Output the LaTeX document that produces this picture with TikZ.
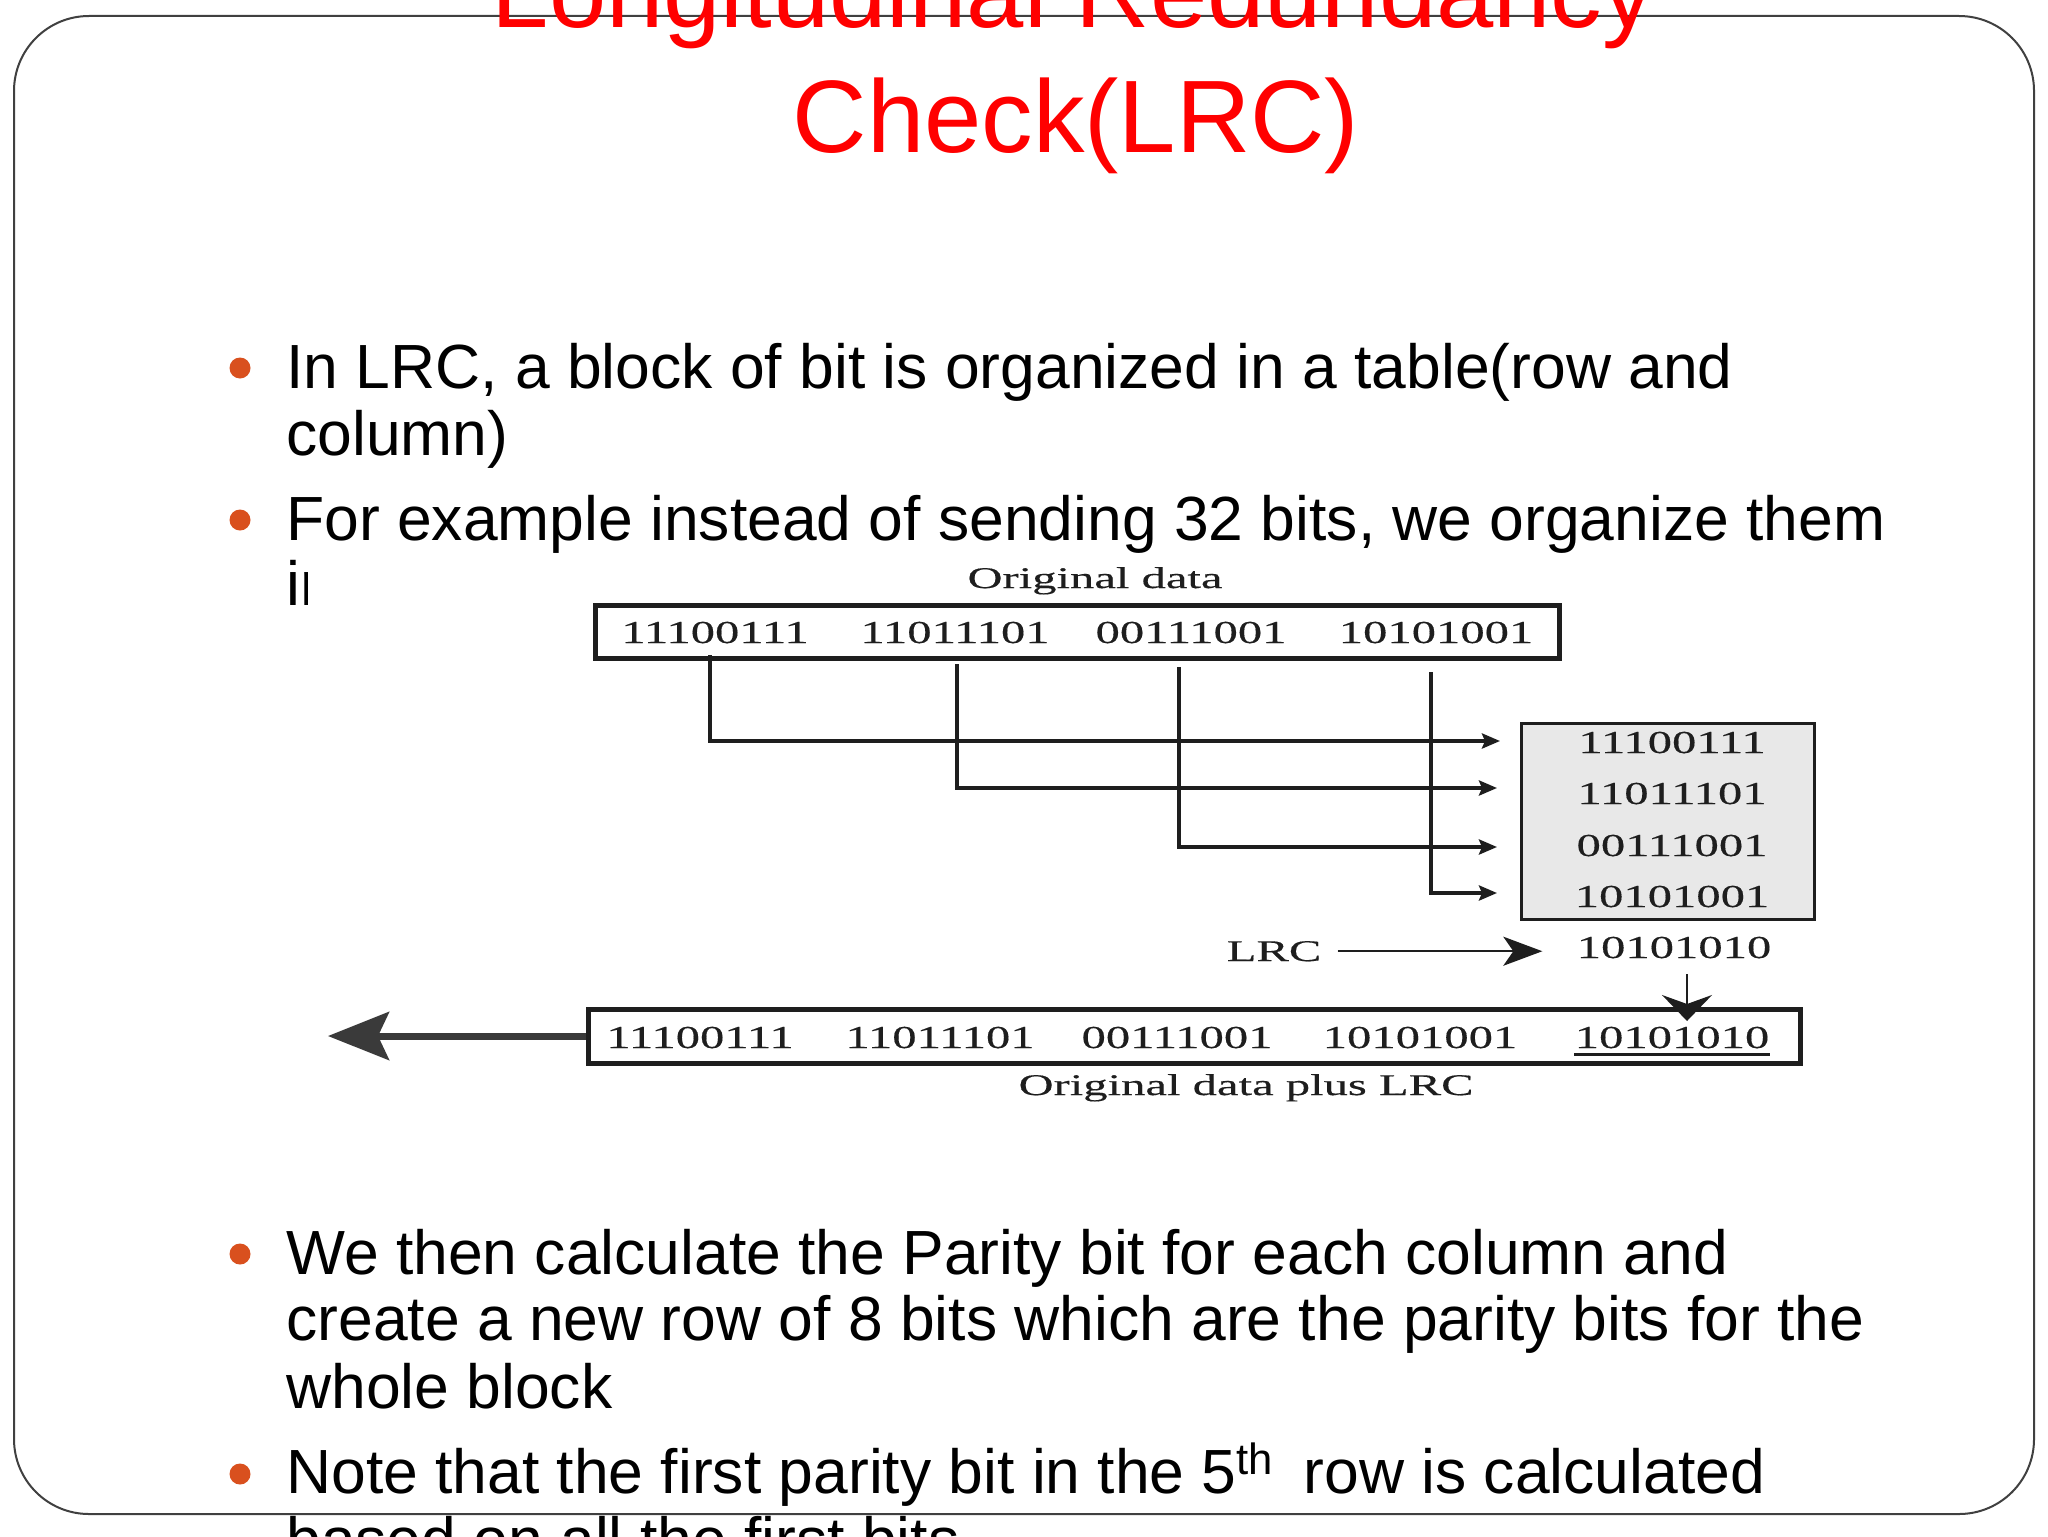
\documentclass[tikz,border=0pt]{standalone}
\usepackage{fontspec}
\setmainfont{Liberation Sans}
\newfontfamily\figdig[FakeStretch=1.52,FakeBold=0.35]{Liberation Serif}
\newfontfamily\figlab[FakeStretch=1.62,FakeBold=0.35]{Liberation Serif}
\usetikzlibrary{arrows.meta}
\definecolor{titlered}{HTML}{FF0000}
\definecolor{bulletc}{HTML}{D9501E}
\definecolor{figink}{HTML}{1E1E1E}
\definecolor{boxgray}{HTML}{E8E8E8}
\definecolor{arrowgray}{HTML}{3A3A3A}
\begin{document}
\begin{tikzpicture}[x=0.5pt,y=-0.5pt,
  body/.style={anchor=base west, inner sep=0pt, font=\fontsize{31.2}{33.5}\selectfont},
  titletext/.style={anchor=base, inner sep=0pt, text=titlered, font=\fontsize{51.5}{60}\selectfont},
  bul/.style={circle, fill=bulletc, minimum size=10.5pt, inner sep=0pt},
  dig/.style={anchor=base, inner sep=0pt, text=figink, font=\fontsize{16}{18}\figdig},
  lab/.style={anchor=base, inner sep=0pt, text=figink, font=\fontsize{15}{18}\figlab},
  databox/.style={draw=figink, line width=2.5pt, inner sep=0pt},
  conn/.style={line width=2pt, draw=figink, -{Stealth[length=9pt,width=7.5pt,inset=1.5pt]}},
  thinarrow/.style={line width=1.2pt, draw=figink, fill=figink},
]
\useasboundingbox (0,0) rectangle (2048,1536);
\clip (0,0) rectangle (2048,1536);
\fill[white] (0,0) rectangle (2048,1536);

% slide frame
\draw[line width=1pt, draw=black!75, rounded corners=37.5pt] (14,16) rectangle (2034,1514);

% title
\node[titletext] (title1) at (1073,28) {Longitudinal Redundancy};
\node[titletext] (title2) at (1076,152) {Check(LRC)};

% bullets
\node[bul] (bu1) at (240,368) {};
\node[bul] (bu2) at (240,520) {};
\node[bul] (bu3) at (240,1254) {};
\node[bul] (bu4) at (240,1474) {};

\node[body] (l1) at (286,388) {In LRC, a block of bit is organized in a table(row and};
\node[body] (l2) at (286,455) {column)};
\node[body] (l3) at (286,540) {For example instead of sending 32 bits, we organize them};
\begin{scope}
  \clip (270,540) rectangle (307,630);
  \node[body] (l4) at (286,605) {in};
\end{scope}
\node[body] (l5) at (286,1274) {We then calculate the Parity bit for each column and};
\node[body] (l6) at (286,1340) {create a new row of 8 bits which are the parity bits for the};
\node[body] (l7) at (286,1408) {whole block};
\node[body] (l8) at (286,1493) {Note that the first parity bit in the 5\textsuperscript{th\ } row is calculated};
\node[body] (l9) at (286,1561) {based on all the first bits};

% figure: original data
\node[lab] (cap1) at (1095,588) {Original data};
\node[databox, minimum width=482pt, minimum height=26.5pt] (topbox) at (1077,631.5) {};
\node[dig] (t1) at (715,643) {11100111};
\node[dig] (t2) at (955,643) {11011101};
\node[dig] (t3) at (1191,643) {00111001};
\node[dig] (t4) at (1436,643) {10101001};

% gray table
\node[draw=figink, fill=boxgray, line width=1.5pt, minimum width=146.5pt, minimum height=98pt, inner sep=0pt] (gbox) at (1667.5,821) {};
\node[dig] (g1) at (1672,753) {11100111};
\node[dig] (g2) at (1672,804) {11011101};
\node[dig] (g3) at (1672,856) {00111001};
\node[dig] (g4) at (1672,907) {10101001};

% connectors
\coordinate (v1) at (710,655);  \coordinate (e1) at (1500,741);
\coordinate (v2) at (957,664);  \coordinate (e2) at (1497,788);
\coordinate (v3) at (1179,667); \coordinate (e3) at (1497,847);
\coordinate (v4) at (1431,672); \coordinate (e4) at (1497,893);
\draw[conn] (v1) |- (e1);
\draw[conn] (v2) |- (e2);
\draw[conn] (v3) |- (e3);
\draw[conn] (v4) |- (e4);

% LRC
\node[lab] (lrclab) at (1274,961) {LRC};
\node[dig] (lrcval) at (1674,958) {10101010};
\draw[thinarrow, -{Stealth[length=19.5pt,width=14.5pt,inset=5pt]}] ([xshift=8pt]lrclab.east) -- ([xshift=-17pt]lrcval.west |- lrclab.east);

% bottom box
\node[databox, minimum width=606pt, minimum height=27pt] (botbox) at (1194,1036) {};
\node[dig] (b1) at (700,1048) {11100111};
\node[dig] (b2) at (940,1048) {11011101};
\node[dig] (b3) at (1177,1048) {00111001};
\node[dig] (b4) at (1420,1048) {10101001};
\node[dig] (b5) at (1672,1048) {10101010};
\draw[line width=1.5pt, draw=figink] ([yshift=-3pt]b5.base west) -- ([yshift=-3pt]b5.base east);
\node[lab] (cap2) at (1246,1095) {Original data plus LRC};

\coordinate (dstart) at (1687,974);
\coordinate (dend) at (1687,1021);
\draw[thinarrow, -{Stealth[length=13pt,width=25pt,inset=4.5pt]}] (dstart) -- (dend);

% outgoing arrow
\coordinate (outend) at (328,1036);
\draw[line width=3.5pt, draw=arrowgray, fill=arrowgray, -{Stealth[length=30.5pt,width=24pt,inset=5.5pt]}] (botbox.west) -- (outend);
\end{tikzpicture}
\end{document}
